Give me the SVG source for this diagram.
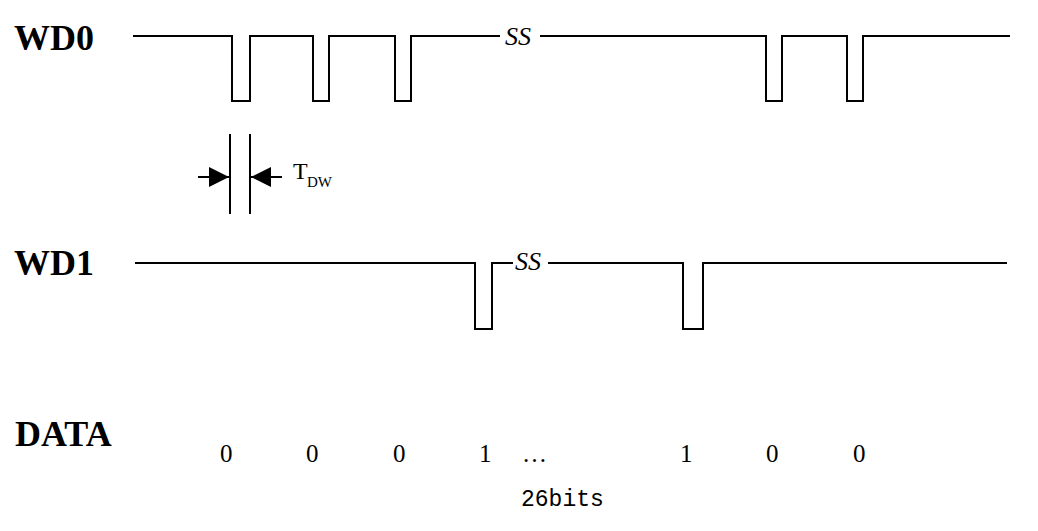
<svg xmlns="http://www.w3.org/2000/svg" width="1038" height="531" viewBox="0 0 1038 531">
<style>
.sig{fill:none;stroke:#000;stroke-width:2;stroke-linejoin:miter}
.lbl{font-family:"Liberation Serif","Times New Roman",serif;font-weight:bold;font-size:36px;fill:#000}
.ss{font-family:"Liberation Serif","Times New Roman",serif;font-style:italic;font-size:26px;fill:#000}
.bit{font-family:"Liberation Serif","Times New Roman",serif;font-size:25px;fill:#000}
.mono{font-family:"Liberation Mono","Courier New",monospace;font-size:23px;fill:#000}
.tdw{font-family:"Liberation Serif","Times New Roman",serif;fill:#000}
</style>
<defs>
<marker id="ah" viewBox="0 0 10 10" refX="10" refY="5" markerWidth="22" markerHeight="20" markerUnits="userSpaceOnUse" orient="auto">
<path d="M0,0 L10,5 L0,10 Z" fill="#000"/>
</marker>
</defs>
<rect width="1038" height="531" fill="#fff"/>
<g id="labels">
<text class="lbl" x="14" y="50">WD0</text>
<text class="lbl" x="14" y="275">WD1</text>
<text class="lbl" x="15" y="446">DATA</text>
</g>
<g id="connectors">
<g id="wd0">
<path class="sig" d="M133,36 H232 V101 H250 V36 H313 V101 H329 V36 H395 V101 H411 V36 H500"/>
<path class="sig" d="M540,36 H766 V101 H782 V36 H847 V101 H863 V36 H1010"/>
<text class="ss" x="505" y="45">SS</text>
</g>
<g id="wd1">
<path class="sig" d="M135,263 H475 V329 H492 V263 H513"/>
<path class="sig" d="M548,263 H683 V329 H703 V263 H1007"/>
<text class="ss" x="515" y="270">SS</text>
</g>
<g id="tdw">
<line class="sig" x1="230" y1="134" x2="230" y2="214"/>
<line class="sig" x1="250" y1="134" x2="250" y2="214"/>
<line class="sig" x1="198" y1="177" x2="229" y2="177" marker-end="url(#ah)"/>
<line class="sig" x1="282" y1="177" x2="251" y2="177" marker-end="url(#ah)"/>
<text class="tdw" x="293" y="179" font-size="24">T</text>
<text class="tdw" x="307" y="187" font-size="15">DW</text>
</g>
</g>
<g id="data">
<text class="bit" x="220" y="462">0</text>
<text class="bit" x="306" y="462">0</text>
<text class="bit" x="393" y="462">0</text>
<text class="bit" x="479" y="462">1</text>
<text class="bit" x="522" y="462">…</text>
<text class="bit" x="680" y="462">1</text>
<text class="bit" x="766" y="462">0</text>
<text class="bit" x="853" y="462">0</text>
<text class="mono" x="521" y="506">26bits</text>
</g>
</svg>
